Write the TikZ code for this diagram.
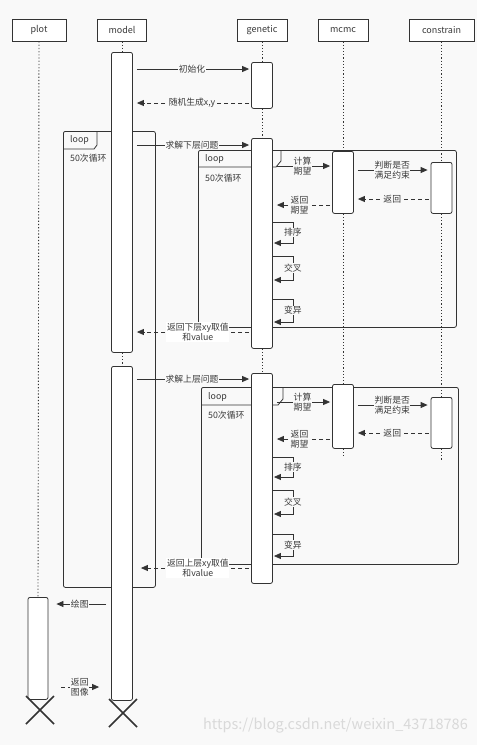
\documentclass[tikz,border=0pt]{standalone}
\usepackage{fontspec}
\setmainfont{Noto Sans CJK SC}
\usetikzlibrary{arrows.meta}
\definecolor{bg}{HTML}{F9F9F9}
\definecolor{lc}{HTML}{333333}
\definecolor{tc}{HTML}{3A3A3A}
\definecolor{wm}{HTML}{D9D9D9}
\tikzset{
  hdr/.style={draw=lc, line width=0.9pt, fill=white, minimum height=22, inner sep=0, text=tc, font=\fontsize{9}{10}\selectfont},
  act/.style={draw=lc, fill=white, rounded corners=2pt, line width=0.8pt, minimum width=21, anchor=north, inner sep=0},
  life/.style={draw=lc, line width=0.9pt, dash pattern=on 1.2pt off 2pt},
  msg/.style={draw=lc, line width=0.8pt, -{Triangle[length=7pt,width=6pt]}},
  ret/.style={msg, dash pattern=on 4pt off 3pt},
  lbl/.style={fill=bg, inner sep=0.6pt, text=tc, align=center, font=\fontsize{8.8}{10.5}\selectfont},
  wlbl/.style={lbl, fill=white},
  frame/.style={draw=lc, line width=0.8pt, rounded corners=2pt},
  tab/.style={draw=lc, line width=0.8pt},
  ftxt/.style={text=tc, anchor=west, inner sep=0, font=\fontsize{8.8}{10.5}\selectfont},
  kill/.style={draw=lc, line width=1.5pt},
}
\begin{document}
\begin{tikzpicture}[x=1pt,y=-1pt]
\fill[bg] (0,0) rectangle (477,745);
\useasboundingbox (0,0) rectangle (477,745);

% headers
\node[hdr, minimum width=54] (plot) at (39,30) {plot};
\node[hdr, minimum width=49] (model) at (122,30) {model};
\node[hdr, minimum width=50] (genetic) at (262,30) {genetic};
\node[hdr, minimum width=50] (mcmc) at (343,30) {mcmc};
\node[hdr, minimum width=65] (constrain) at (441.5,30) {constrain};

% loop frames
\node[frame, minimum width=92, minimum height=456, anchor=north west, inner sep=0] (L0) at (63,131) {};
\draw[tab] (63,149) -- (94,149) -- (97,145) -- (97,131);
\node[ftxt] (L0t) at (70,140) {loop};
\node[ftxt] (L0c) at (70,158) {50次循环};

\node[frame, minimum width=258, minimum height=177, anchor=north west, inner sep=0] (L1) at (198,150) {};
\draw[tab] (198,167) -- (276,167) -- (281,161) -- (281,150);
\node[ftxt] (L1t) at (205,159) {loop};
\node[ftxt] (L1c) at (205,178) {50次循环};

\node[frame, minimum width=257, minimum height=177, anchor=north west, inner sep=0] (L2) at (201,387) {};
\draw[tab] (201,405) -- (278,405) -- (283,399) -- (283,387);
\node[ftxt] (L2t) at (208,397) {loop};
\node[ftxt] (L2c) at (208,415) {50次循环};

% activations
\node[act, minimum height=300] (m1) at (122,52) {};
\node[act, minimum height=334] (m2) at (122,366) {};
\node[act, minimum height=46] (g1) at (262,62) {};
\node[act, minimum height=210] (g2) at (262,138) {};
\node[act, minimum height=210] (g3) at (262,373) {};
\node[act, minimum height=62] (mc1) at (343,151) {};
\node[act, minimum height=64] (mc2) at (343,384) {};
\node[act, minimum height=51] (c1) at (441.5,162) {};
\node[act, minimum height=51] (c2) at (441.5,397) {};
\node[act, minimum width=20, minimum height=102] (p1) at (38,597) {};

% lifelines
\draw[life] (plot.south) -- (p1.north);
\draw[life] (model.south) -- (m1.north);
\draw[life] (m1.south) -- (m2.north);
\draw[life] (genetic.south) -- (g1.north);
\draw[life] (g1.south) -- (g2.north);
\draw[life] (g2.south) -- (g3.north);
\draw[life] (mcmc.south) -- (mc1.north);
\draw[life] (mc1.south) -- (mc2.north);
\draw[life] (mc2.south) -- ++(0,8);
\draw[life] (constrain.south) -- (c1.north);
\draw[life] (c1.south) -- (c2.north);
\draw[life] (c2.south) -- ++(0,11);

% init
\draw[msg, shorten <=4pt, shorten >=2pt] (m1.east |- 0,69) -- node[lbl] {初始化} (g1.west |- 0,69);
\draw[ret, shorten <=2pt, shorten >=4pt] (g1.west |- 0,103) -- node[lbl] {随机生成x,y} (m1.east |- 0,103);

% lower problem
\draw[msg, shorten <=4pt, shorten >=2pt] (m1.east |- 0,145) -- node[lbl] {求解下层问题} (g2.west |- 0,145);
\draw[msg, shorten <=4pt, shorten >=2pt] (g2.east |- 0,166) -- node[lbl, pos=0.5] {计算\\期望} (mc1.west |- 0,166);
\draw[msg, shorten <=4pt, shorten >=3pt] (mc1.east |- 0,170) -- node[lbl] {判断是否\\满足约束} (c1.west |- 0,170);
\draw[ret, shorten <=2pt, shorten >=4pt] (c1.west |- 0,199) -- node[lbl] {返回} (mc1.east |- 0,199);
\draw[ret, shorten <=2pt, shorten >=4pt] (mc1.west |- 0,205) -- node[lbl, pos=0.55] {返回\\期望} (g2.east |- 0,205);
\draw[msg, shorten >=1pt] (g2.east |- 0,222) -- ++(20,0) -- node[lbl] {排序} ++(0,21) -- (g2.east |- 0,243);
\draw[msg, shorten >=1pt] (g2.east |- 0,256) -- ++(20,0) -- node[lbl] {交叉} ++(0,24) -- (g2.east |- 0,280);
\draw[msg, shorten >=1pt] (g2.east |- 0,299) -- ++(20,0) -- node[lbl] {变异} ++(0,23) -- (g2.east |- 0,322);
\draw[ret, shorten <=2pt, shorten >=4pt] (g2.west |- 0,332) -- node[wlbl, pos=0.45] {返回下层xy取值\\和value} (m1.east |- 0,332);

% upper problem
\draw[msg, shorten <=4pt, shorten >=2pt] (m2.east |- 0,379) -- node[lbl] {求解上层问题} (g3.west |- 0,379);
\draw[msg, shorten <=4pt, shorten >=2pt] (g3.east |- 0,402) -- node[lbl, pos=0.5] {计算\\期望} (mc2.west |- 0,402);
\draw[msg, shorten <=4pt, shorten >=3pt] (mc2.east |- 0,405) -- node[lbl] {判断是否\\满足约束} (c2.west |- 0,405);
\draw[ret, shorten <=2pt, shorten >=4pt] (c2.west |- 0,433) -- node[lbl] {返回} (mc2.east |- 0,433);
\draw[ret, shorten <=2pt, shorten >=4pt] (mc2.west |- 0,439) -- node[lbl, pos=0.55] {返回\\期望} (g3.east |- 0,439);
\draw[msg, shorten >=1pt] (g3.east |- 0,457) -- ++(20,0) -- node[lbl] {排序} ++(0,20) -- (g3.east |- 0,477);
\draw[msg, shorten >=1pt] (g3.east |- 0,490) -- ++(20,0) -- node[lbl] {交叉} ++(0,24) -- (g3.east |- 0,514);
\draw[msg, shorten >=1pt] (g3.east |- 0,534) -- ++(20,0) -- node[lbl] {变异} ++(0,22) -- (g3.east |- 0,556);
\draw[ret, shorten <=2pt, shorten >=8pt] (g3.west |- 0,568) -- node[wlbl, pos=0.45] {返回上层xy取值\\和value} (m2.east |- 0,568);

% plot
\draw[msg, shorten <=5pt, shorten >=8pt] (m2.west |- 0,604) -- node[lbl] {绘图} (p1.east |- 0,604);
\draw[ret, shorten <=13pt, shorten >=12pt] (p1.east |- 0,687) -- node[lbl] {返回\\图像} (m2.west |- 0,687);

% destruction marks
\draw[kill] (26,696) -- (54,724) (26,724) -- (54,696);
\draw[kill] (109,699) -- (137,727) (109,727) -- (137,699);

% watermark
\node[text=wm, anchor=east, inner sep=0, font=\fontsize{14.5}{16}\selectfont] (wmark) at (468,726) {https://blog.csdn.net/weixin\_43718786};
\end{tikzpicture}
\end{document}
